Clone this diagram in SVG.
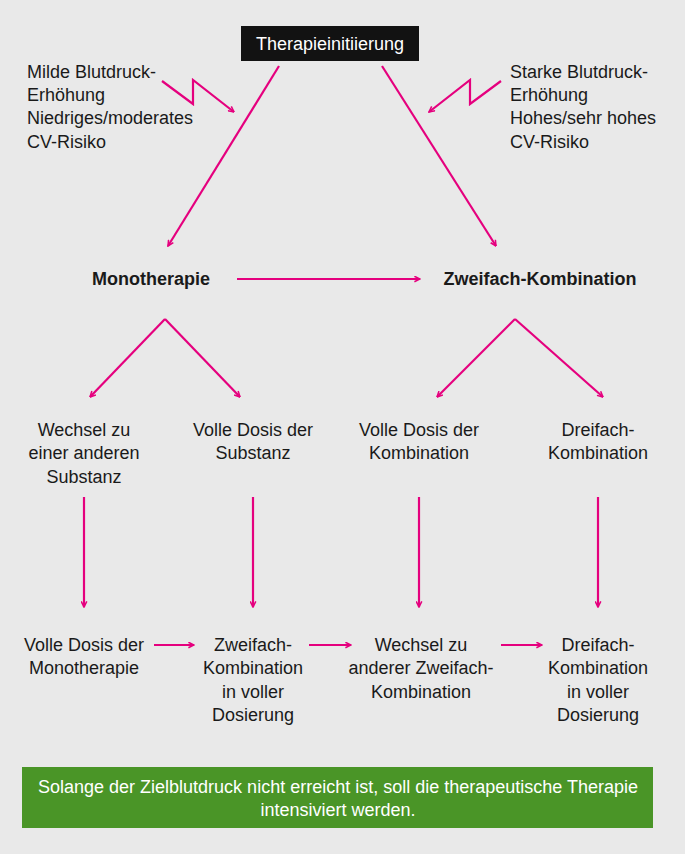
<svg xmlns="http://www.w3.org/2000/svg" width="685" height="854" viewBox="0 0 685 854">
<defs>
<marker id="ah" viewBox="0 0 10 10" refX="9" refY="5" markerWidth="7" markerHeight="7" markerUnits="userSpaceOnUse" orient="auto">
<path d="M1,1 L9,5 L1,9" fill="none" stroke="#e5007e" stroke-width="2.2"/>
</marker>
</defs>
<style>
.t{font-family:"Liberation Sans",Arial,sans-serif;font-size:18px;fill:#1a1a1a}
.c{text-anchor:middle}
.b{font-weight:bold}
.w{fill:#ffffff}
.ln{fill:none;stroke:#e5007e;stroke-width:2.2;marker-end:url(#ah)}
</style>
<rect x="0" y="0" width="685" height="854" fill="#e9e9e9"/>
<g id="start">
<rect x="241" y="26" width="178" height="35" fill="#121212"/>
<text class="t c w" x="330" y="50">Therapieinitiierung</text>
</g>
<g id="mild">
<text class="t" x="27" y="78">Milde Blutdruck-</text>
<text class="t" x="27" y="101">Erhöhung</text>
<text class="t" x="27" y="124">Niedriges/moderates</text>
<text class="t" x="27" y="148">CV-Risiko</text>
</g>
<g id="strong">
<text class="t" x="510" y="78">Starke Blutdruck-</text>
<text class="t" x="510" y="101">Erhöhung</text>
<text class="t" x="510" y="124">Hohes/sehr hohes</text>
<text class="t" x="510" y="148">CV-Risiko</text>
</g>
<g id="mono"><text class="t c b" x="151" y="285">Monotherapie</text></g>
<g id="zweifach"><text class="t c b" x="540" y="285">Zweifach-Kombination</text></g>
<g id="wechsel1">
<text class="t c" x="84" y="436">Wechsel zu</text>
<text class="t c" x="84" y="459">einer anderen</text>
<text class="t c" x="84" y="483">Substanz</text>
</g>
<g id="vollsub">
<text class="t c" x="253" y="436">Volle Dosis der</text>
<text class="t c" x="253" y="459">Substanz</text>
</g>
<g id="vollkomb">
<text class="t c" x="419" y="436">Volle Dosis der</text>
<text class="t c" x="419" y="459">Kombination</text>
</g>
<g id="dreifach1">
<text class="t c" x="598" y="436">Dreifach-</text>
<text class="t c" x="598" y="459">Kombination</text>
</g>
<g id="vollmono">
<text class="t c" x="84" y="651">Volle Dosis der</text>
<text class="t c" x="84" y="674">Monotherapie</text>
</g>
<g id="zweivoll">
<text class="t c" x="253" y="651">Zweifach-</text>
<text class="t c" x="253" y="674">Kombination</text>
<text class="t c" x="253" y="698">in voller</text>
<text class="t c" x="253" y="721">Dosierung</text>
</g>
<g id="wechsel2">
<text class="t c" x="421" y="651">Wechsel zu</text>
<text class="t c" x="421" y="674">anderer Zweifach-</text>
<text class="t c" x="421" y="698">Kombination</text>
</g>
<g id="dreivoll">
<text class="t c" x="598" y="651">Dreifach-</text>
<text class="t c" x="598" y="674">Kombination</text>
<text class="t c" x="598" y="698">in voller</text>
<text class="t c" x="598" y="721">Dosierung</text>
</g>
<g id="note">
<rect x="22" y="767" width="631" height="61" fill="#4a9527"/>
<text class="t c w" x="338" y="793">Solange der Zielblutdruck nicht erreicht ist, soll die therapeutische Therapie</text>
<text class="t c w" x="338" y="816">intensiviert werden.</text>
</g>
<g id="connectors">
<path class="ln" d="M162,81 L193,104 L193,80 L234,112"/>
<path class="ln" d="M501,81 L470,104 L470,80 L429,112"/>
<path class="ln" d="M279,66 L168,246"/>
<path class="ln" d="M382,66 L496,246"/>
<path class="ln" d="M237,279 L420,279"/>
<path class="ln" d="M165,319 L90,397"/>
<path class="ln" d="M165,319 L240,397"/>
<path class="ln" d="M515,319 L437,397"/>
<path class="ln" d="M515,319 L603,397"/>
<path class="ln" d="M84,497 L84,607"/>
<path class="ln" d="M253,497 L253,607"/>
<path class="ln" d="M419,497 L419,607"/>
<path class="ln" d="M598,497 L598,607"/>
<path class="ln" d="M154,645 L194,645"/>
<path class="ln" d="M309,645 L351,645"/>
<path class="ln" d="M501,645 L542,645"/>
</g>
</svg>
